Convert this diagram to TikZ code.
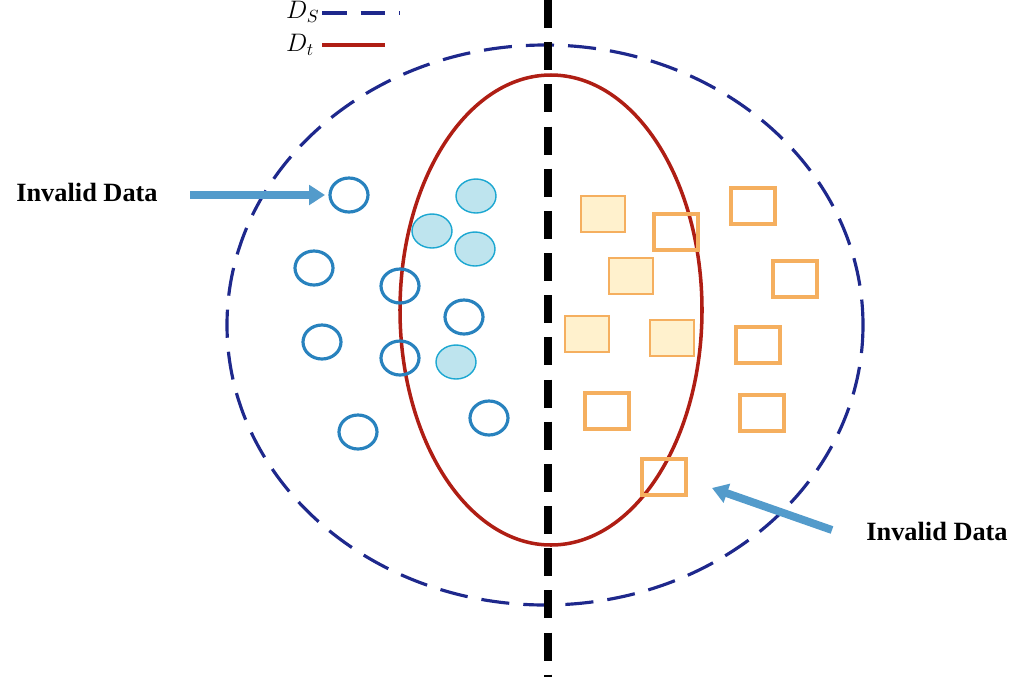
\documentclass[tikz,border=0pt]{standalone}
\usepackage{fontspec}
\setmainfont{Liberation Serif}
\usetikzlibrary{arrows.meta}
\begin{document}
\begin{tikzpicture}[x=0.02cm,y=-0.02cm]
\useasboundingbox (0,0) rectangle (1025,677);
\definecolor{dsb}{RGB}{30,40,140}
\definecolor{dtr}{RGB}{175,30,20}
\definecolor{cb}{RGB}{40,130,190}
\definecolor{ob}{RGB}{245,175,95}
\definecolor{fy}{RGB}{255,241,205}
\definecolor{fc}{RGB}{190,228,238}
\tikzset{circ/.style={draw=cb,line width=1.8pt},
 fcirc/.style={fill=fc,draw=cb!70!cyan,line width=0.8pt},
 sq/.style={draw=ob,line width=1.8pt},
 fsq/.style={draw=ob,fill=fy,line width=0.9pt},
 iarrow/.style={-{Triangle[length=9pt,width=11pt]},line width=4.5pt,draw=cb!80!white},
 lbl/.style={font=\bfseries\fontsize{15}{17}\selectfont,inner sep=0pt},
 leg/.style={font=\fontsize{14}{16}\selectfont}}
% big circles
\draw[dsb,line width=1.8pt,dash pattern=on 16pt off 8pt] (545,325) ellipse [x radius=318,y radius=280];
\draw[dtr,line width=2pt] (551,310) ellipse [x radius=151,y radius=235];
\draw[black,line width=4.5pt,dash pattern=on 16pt off 8pt] (548,0) -- (548,677);
% legend
\node[anchor=west,leg] (ds) at (280,12) {$D_S$};
\node[anchor=west,leg] (dt) at (280,45) {$D_t$};
\draw[dsb,line width=1.8pt,dash pattern=on 14pt off 8pt] (322,13) -- (400,13);
\draw[dtr,line width=2pt] (322,45) -- (385,45);
% open circles
\foreach \x/\y in {349/195,314/268,400/286,322/342,400/358,464/317,358/432,489/418}
 \draw[circ] (\x,\y) ellipse [x radius=19,y radius=17];
\foreach \x/\y in {476/196,432/231,475/249,456/362}
 \draw[fcirc] (\x,\y) ellipse [x radius=20,y radius=17];
% squares
\foreach \x/\y in {676/232,753/206,795/279,758/345,607/411,762/413,664/477}
 \draw[sq] (\x-22,\y-18) rectangle (\x+22,\y+18);
\foreach \x/\y in {603/214,631/276,587/334,672/338}
 \draw[fsq] (\x-22,\y-18) rectangle (\x+22,\y+18);
% arrows
\node[lbl] (l1) at (87,192) {Invalid Data};
\coordinate (a1) at (190,195);
\coordinate (b1) at (325,195);
\draw[iarrow] (a1) -- (b1);
\node[lbl] (l2) at (937,531) {Invalid Data};
\coordinate (a2) at (832,530);
\coordinate (b2) at (712,488);
\draw[iarrow] (a2) -- (b2);
\end{tikzpicture}
\end{document}
